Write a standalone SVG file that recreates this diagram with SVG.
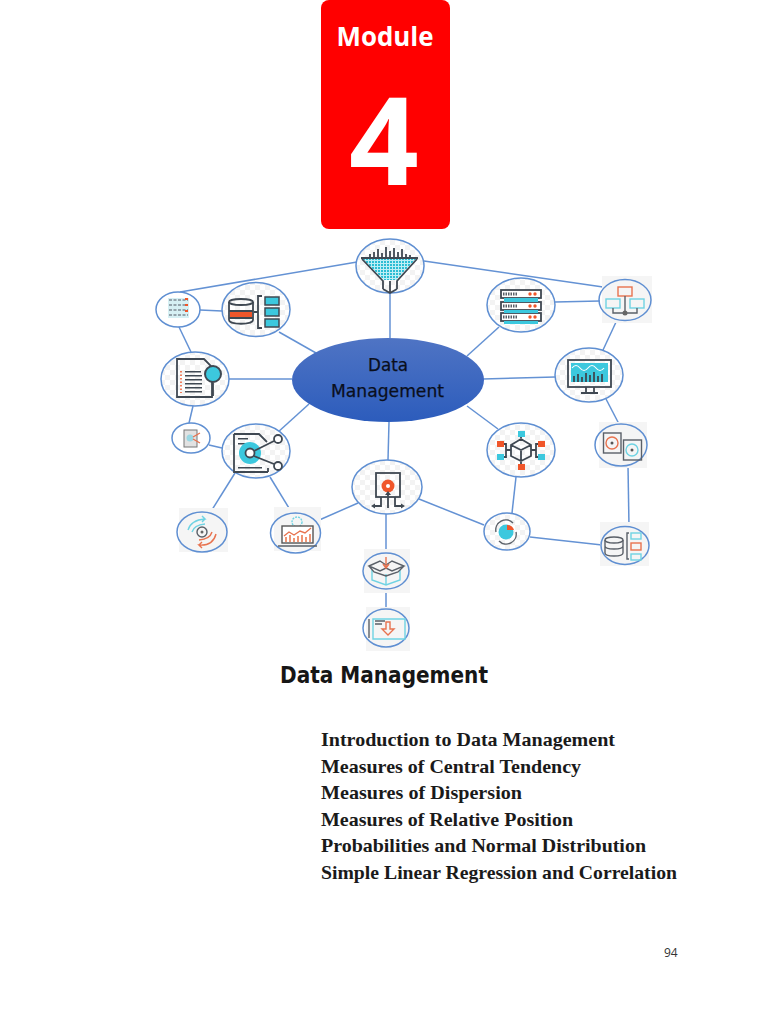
<svg xmlns="http://www.w3.org/2000/svg" width="768" height="1024" viewBox="0 0 768 1024">
<style>
.ring{stroke:#5f8fd2;stroke-width:1.5}
.plain{fill:#fff}
.bare{fill:none}
.chk{fill:url(#chk)}
.grey{fill:#f5f5f5}
.ic{fill:none;stroke:#3f4852;stroke-width:1.8}
.thin{fill:none;stroke:#5a6068;stroke-width:1.400}
.cy{fill:#3cc8de}
.or{fill:#f0562a}
.cyl{fill:none;stroke:#6fd3e3;stroke-width:1.400}
.orl{fill:none;stroke:#e8734f;stroke-width:1.400}
.dk{fill:#3f4852}
#connectors line{stroke:#6492d4;stroke-width:1.5}
.lst{font-family:"Liberation Serif",serif;font-weight:700;font-size:19.5px;fill:#1a1a1a}
.dv{font-family:"DejaVu Sans",sans-serif}
</style>
<defs>
<linearGradient id="blue" x1="0" y1="0" x2="0" y2="1"><stop offset="0" stop-color="#4f74c4"/><stop offset="1" stop-color="#2c5cbc"/></linearGradient>
<pattern id="chk" width="10" height="10" patternUnits="userSpaceOnUse"><rect width="10" height="10" fill="#fff"/><rect width="5" height="5" fill="#f3f3f3"/><rect x="5" y="5" width="5" height="5" fill="#f3f3f3"/></pattern>
<pattern id="dots" width="3" height="3" patternUnits="userSpaceOnUse"><rect width="3" height="3" fill="#bfeef5"/><rect width="2" height="2" fill="#2cbdd4"/></pattern>
</defs>

<g id="module-badge">
<rect x="321" y="0" width="129" height="229" rx="8" fill="#ff0000"/>
<text x="385" y="46" text-anchor="middle" font-family="'Open Sans',sans-serif" font-weight="700" font-size="27" fill="#fff" textLength="97" lengthAdjust="spacingAndGlyphs">Module</text>
<text x="384" y="185" text-anchor="middle" font-family="'Open Sans',sans-serif" font-weight="700" font-size="122" fill="#fff">4</text>
</g>

<g id="connectors">
<line x1="357" y1="262" x2="180" y2="292"/>
<line x1="424" y1="261" x2="603" y2="287"/>
<line x1="390" y1="293" x2="390" y2="338"/>
<line x1="200" y1="310" x2="222" y2="311"/>
<line x1="179" y1="327" x2="191" y2="352"/>
<line x1="279" y1="332" x2="316" y2="353"/>
<line x1="229" y1="379" x2="292" y2="379"/>
<line x1="193" y1="406" x2="189" y2="423"/>
<line x1="209" y1="445" x2="222" y2="448"/>
<line x1="277" y1="433" x2="309" y2="404"/>
<line x1="499" y1="327" x2="467" y2="356"/>
<line x1="555" y1="302" x2="600" y2="301"/>
<line x1="617" y1="320" x2="603" y2="350"/>
<line x1="483" y1="379" x2="555" y2="377"/>
<line x1="606" y1="399" x2="619" y2="424"/>
<line x1="467" y1="406" x2="498" y2="429"/>
<line x1="389" y1="422" x2="388" y2="460"/>
<line x1="628" y1="466" x2="629" y2="527"/>
<line x1="516" y1="477" x2="512" y2="513"/>
<line x1="530" y1="537" x2="602" y2="545"/>
<line x1="419" y1="499" x2="484" y2="525"/>
<line x1="358" y1="503" x2="317" y2="521"/>
<line x1="270" y1="477" x2="292" y2="513"/>
<line x1="235" y1="473" x2="210" y2="513"/>
<line x1="386" y1="514" x2="386" y2="553"/>
<line x1="386" y1="589" x2="386" y2="610"/>
</g>

<g id="center">
<ellipse cx="388" cy="380" rx="96" ry="42" fill="url(#blue)"/>
<text class="dv" x="388" y="371" text-anchor="middle" font-size="17" fill="#0a0f1c" stroke="#0a0f1c" stroke-width=".25" textLength="40" lengthAdjust="spacingAndGlyphs">Data</text>
<text class="dv" x="387.500" y="397" text-anchor="middle" font-size="17" fill="#0a0f1c" stroke="#0a0f1c" stroke-width=".25" textLength="113" lengthAdjust="spacingAndGlyphs">Management</text>
</g>

<g id="node-funnel">
<ellipse class="ring chk" cx="390" cy="266" rx="34" ry="27"/>
<path class="ic" stroke-width="1.600" d="M370 258v-4M374 258v-6M378 258v-9M382 258v-5M386 258v-11M390 258v-7M394 258v-10M398 258v-6M402 258v-9M406 258v-4M410 258v-3"/>
<path d="M362 259H416L396 280H384Z" fill="url(#dots)"/>
<path class="ic" stroke-width="2" d="M361 258H418M362 259L383 281V289M417 259L397 281V289M390 281V293M383 289L390 293L397 289"/>
</g>

<g id="node-small-server">
<ellipse class="ring plain" cx="178" cy="309.500" rx="22" ry="17.500"/>
<rect x="168" y="298" width="21" height="20" fill="#d6f0f4"/>
<path d="M169 300h19M169 305h19M169 310h19M169 315h19" stroke="#7f8a94" stroke-width="1.500" stroke-dasharray="3 1.500"/>
<rect class="or" x="185" y="298" width="3" height="2"/><rect class="or" x="185" y="304" width="3" height="2"/><rect class="or" x="185" y="310" width="3" height="2"/>
</g>

<g id="node-db">
<ellipse class="ring chk" cx="256" cy="309.500" rx="34" ry="27"/>
<ellipse class="ic" cx="241" cy="302" rx="12" ry="3" fill="#fff"/>
<path class="ic" d="M229 302V320C229 325 253 325 253 320V302"/>
<rect class="or" x="230" y="312" width="22" height="5"/>
<path class="ic" d="M229 311H253M229 318H253M262 296H258V328H262M254 312H258"/>
<rect class="cy" x="265" y="297" width="14" height="8" stroke="#3f4852" stroke-width="1.500"/>
<rect class="cy" x="265" y="308" width="14" height="8" stroke="#3f4852" stroke-width="1.500"/>
<rect class="cy" x="265" y="319" width="14" height="8" stroke="#3f4852" stroke-width="1.500"/>
</g>

<g id="node-doc-search">
<ellipse class="ring chk" cx="195" cy="379" rx="34" ry="27"/>
<path class="ic" d="M177 359H204L212 367V397H177Z"/>
<path class="dk" d="M185 371h16v1.500h-16zM185 375h17v1.500h-17zM185 379h17v1.500h-17zM185 383h17v1.500h-17zM185 387h17v1.500h-17zM185 391h17v1.500h-17z"/>
<path d="M181 371v22" stroke="#f0562a" stroke-width="1.500" stroke-dasharray="1.500 2"/>
<circle class="cy" cx="213" cy="374" r="8" stroke="#3f4852" stroke-width="2"/>
<path class="ic" stroke-width="3.500" d="M213 383V396"/>
</g>

<g id="node-small-doc">
<ellipse class="ring plain" cx="191" cy="438" rx="19" ry="15"/>
<rect x="184" y="430" width="13" height="17" fill="#e2e2e2" stroke="#777" stroke-width="1"/>
<circle cx="190" cy="438" r="3.500" fill="#9ad7e3"/>
<path class="orl" d="M193 437L200 433M193 439L200 443"/>
</g>

<g id="node-doc-share">
<ellipse class="ring chk" cx="256" cy="451" rx="34" ry="27"/>
<path class="ic" d="M234 434H259L267 442M234 434V472H268V472M268 472V468"/>
<path class="dk" d="M238 438h10v1.500h-10zM238 443h14v1.500h-14zM238 467h24v1.500h-24z"/>
<circle class="cy" cx="250" cy="453" r="11"/>
<circle cx="250" cy="453" r="4.500" fill="#fff" stroke="#3f4852" stroke-width="1.800"/>
<path class="ic" d="M254 451L274 441M254 456L274 464"/>
<circle cx="278" cy="439" r="4" fill="#fff" stroke="#3f4852" stroke-width="1.800"/>
<circle cx="278" cy="466" r="4" fill="#fff" stroke="#3f4852" stroke-width="1.800"/>
</g>

<g id="node-servers">
<ellipse class="ring chk" cx="521" cy="305" rx="34" ry="27"/>
<g fill="#fff" stroke="#3f4852" stroke-width="1.800"><rect x="501" y="290" width="40" height="8"/><rect x="501" y="302" width="40" height="8"/><rect x="501" y="313" width="40" height="8"/></g>
<path class="cy" d="M504 298h34v4h-34zM504 310h34v3h-34zM504 321h34v3h-34z"/>
<path d="M503 294h14M503 306h14M503 317h14" stroke="#5a6068" stroke-width="3" stroke-dasharray="1.500 1"/>
<g class="or"><circle cx="530" cy="294" r="1.700"/><circle cx="535" cy="294" r="1.700"/><circle cx="530" cy="306" r="1.700"/><circle cx="535" cy="306" r="1.700"/><circle cx="530" cy="317" r="1.700"/><circle cx="535" cy="317" r="1.700"/></g>
</g>

<g id="node-network">
<rect class="grey" x="602" y="276" width="50" height="47"/>
<ellipse class="ring bare" cx="625" cy="300" rx="26" ry="20.500"/>
<rect class="orl" x="618" y="287" width="14" height="9"/>
<rect class="cyl" x="606" y="299" width="14" height="9"/>
<rect class="cyl" x="630" y="299" width="14" height="9"/>
<path class="thin" d="M625 296V311M613 308V313H637V308"/>
<circle cx="625" cy="313" r="2.500" fill="#666"/>
</g>

<g id="node-monitor">
<ellipse class="ring chk" cx="589" cy="375" rx="34" ry="27"/>
<rect class="ic" x="568" y="360" width="43" height="27"/>
<rect class="cy" x="571" y="363" width="37" height="19"/>
<path d="M572 368Q576 363 580 368T588 368T596 368T604 368" fill="none" stroke="#fff" stroke-width="1.200"/>
<path d="M574 382v-6M578 382v-8M582 382v-5M586 382v-9M590 382v-7M594 382v-10M598 382v-6M602 382v-8" stroke="#3f4852" stroke-width="1.800"/>
<path class="ic" d="M586 387V392M594 387V392M581 393H598"/>
</g>

<g id="node-hdds">
<rect class="grey" x="599" y="422" width="48" height="46"/>
<ellipse class="ring bare" cx="621" cy="445" rx="26" ry="21"/>
<rect class="thin" x="603.500" y="433" width="17.500" height="20"/>
<circle class="orl" cx="612" cy="443" r="6"/><circle cx="612" cy="443" r="1.500" fill="#555"/>
<rect class="thin" x="623.500" y="440" width="18" height="20"/>
<circle class="cyl" cx="632" cy="450" r="6"/><circle cx="632" cy="450" r="1.500" fill="#555"/>
</g>

<g id="node-cube">
<ellipse class="ring chk" cx="521" cy="450" rx="34" ry="27"/>
<path class="ic" d="M521 439L531 445V456L521 461L511 456V445ZM511 445L521 450L531 445M521 450V461M521 438V434M521 461V467M511 450H506V444H501M511 450H506V457H501M531 450H536V444H542M531 450H536V457H542"/>
<rect class="cy" x="518" y="431" width="7" height="6"/>
<rect class="or" x="497" y="441" width="7" height="6"/>
<rect class="or" x="538" y="441" width="7" height="6"/>
<rect class="cy" x="497" y="454" width="7" height="6"/>
<rect class="cy" x="538" y="454" width="7" height="6"/>
<rect class="or" x="518" y="464" width="7" height="6"/>
</g>

<g id="node-pie">
<ellipse class="ring chk" cx="507" cy="531.500" rx="23" ry="18.500"/>
<circle class="cy" cx="506" cy="532" r="7.500"/>
<path class="or" d="M507 530V525A7 7 0 0 1 514 530Z"/>
<path class="thin" d="M496 532A10 10 0 0 1 513 523M516 532A10 10 0 0 1 499 541"/>
</g>

<g id="node-db2">
<rect class="grey" x="600" y="522" width="49" height="44"/>
<ellipse class="ring bare" cx="625" cy="545.500" rx="24" ry="19"/>
<ellipse class="thin" cx="614" cy="540" rx="9" ry="3"/>
<path class="thin" d="M605 540V553C605 557 623 557 623 553V540M605 546C605 550 623 550 623 546"/>
<path class="thin" d="M629 533H627V559H629"/>
<rect class="cyl" x="631" y="533" width="10" height="6"/>
<rect class="orl" x="631" y="543" width="10" height="7"/>
<rect class="cyl" x="631" y="554" width="10" height="6"/>
</g>

<g id="node-hdd">
<ellipse class="ring chk" cx="387" cy="487" rx="35" ry="27"/>
<rect class="ic" x="376" y="473" width="24" height="24"/>
<circle class="or" cx="388" cy="486" r="6.500"/><circle cx="388" cy="486" r="2" fill="#fff"/>
<path class="ic" d="M388 508V494M381 497V506H373M395 497V506H403"/>
<path class="dk" d="M388 491l-3 4h6zM371 506l4-2.500v5zM405 506l-4-2.500v5z"/>
</g>

<g id="node-laptop">
<rect class="grey" x="274" y="507" width="47" height="44"/>
<ellipse class="ring bare" cx="295.500" cy="533" rx="25" ry="20"/>
<circle class="cyl" cx="297" cy="522" r="5" stroke-dasharray="2 1" stroke-width="2"/>
<rect x="282" y="526" width="31" height="17" fill="#fff" stroke="#555" stroke-width="1.400"/>
<path class="thin" stroke-width="2" d="M278 546H317"/>
<path class="orl" d="M284 536l5-4 5 3 6-4 5 2 6-5"/>
<path d="M286 542v-5M290 542v-7M294 542v-4M298 542v-6M302 542v-7M306 542v-5M310 542v-8" stroke="#ee8a66" stroke-width="1.800"/>
</g>

<g id="node-disc">
<rect class="grey" x="179" y="508" width="49" height="44"/>
<ellipse class="ring bare" cx="202" cy="532" rx="25" ry="20"/>
<circle class="thin" cx="202" cy="532" r="5" stroke-width="2"/><circle cx="202" cy="532" r="1.500" fill="#666"/>
<path class="cyl" stroke-width="1.800" d="M188 530Q191 520 205 519L202 516M205 519L202 522M192 532Q194 525 205 524"/>
<path class="orl" stroke-width="1.800" d="M216 534Q213 546 199 545L202 548M199 545L202 542M212 532Q210 539 199 540"/>
</g>

<g id="node-box">
<rect class="grey" x="364" y="549" width="46" height="44"/>
<ellipse class="ring bare" cx="386" cy="571" rx="23" ry="18"/>
<path class="cyl" d="M372 570V580L386 585L400 580V570M386 574V585"/>
<path class="thin" d="M369 566L380 561L386 565L392 561L404 566L392 571L386 568L380 571ZM369 566L374 572L386 576L398 572L404 566"/>
<path class="orl" d="M386 557V567M383 564L386 568L389 564"/>
</g>

<g id="node-download">
<rect class="grey" x="366" y="607" width="44" height="44"/>
<ellipse class="ring bare" cx="386" cy="628" rx="23" ry="19"/>
<path class="cyl" d="M373 619H405V639H373Z"/>
<path class="thin" stroke-width="1.800" d="M369 619V638"/>
<path class="thin" d="M375 621H385M375 624H382"/>
<path class="orl" d="M386 622H390V629H394L388 635L382 629H386Z"/>
</g>

<text class="dv" x="280" y="683" font-size="23" font-weight="700" fill="#161616" textLength="208" lengthAdjust="spacingAndGlyphs">Data Management</text>
<text class="lst" x="321" y="745.500" textLength="294" lengthAdjust="spacingAndGlyphs">Introduction to Data Management</text>
<text class="lst" x="321" y="772.500" textLength="260" lengthAdjust="spacingAndGlyphs">Measures of Central Tendency</text>
<text class="lst" x="321" y="799" textLength="201" lengthAdjust="spacingAndGlyphs">Measures of Dispersion</text>
<text class="lst" x="321" y="825.500" textLength="252" lengthAdjust="spacingAndGlyphs">Measures of Relative Position</text>
<text class="lst" x="321" y="852" textLength="325" lengthAdjust="spacingAndGlyphs">Probabilities and Normal Distribution</text>
<text class="lst" x="321" y="879" textLength="356" lengthAdjust="spacingAndGlyphs">Simple Linear Regression and Correlation</text>
<text x="664" y="957" font-family="'Open Sans',sans-serif" font-size="12" fill="#333">94</text>
</svg>
